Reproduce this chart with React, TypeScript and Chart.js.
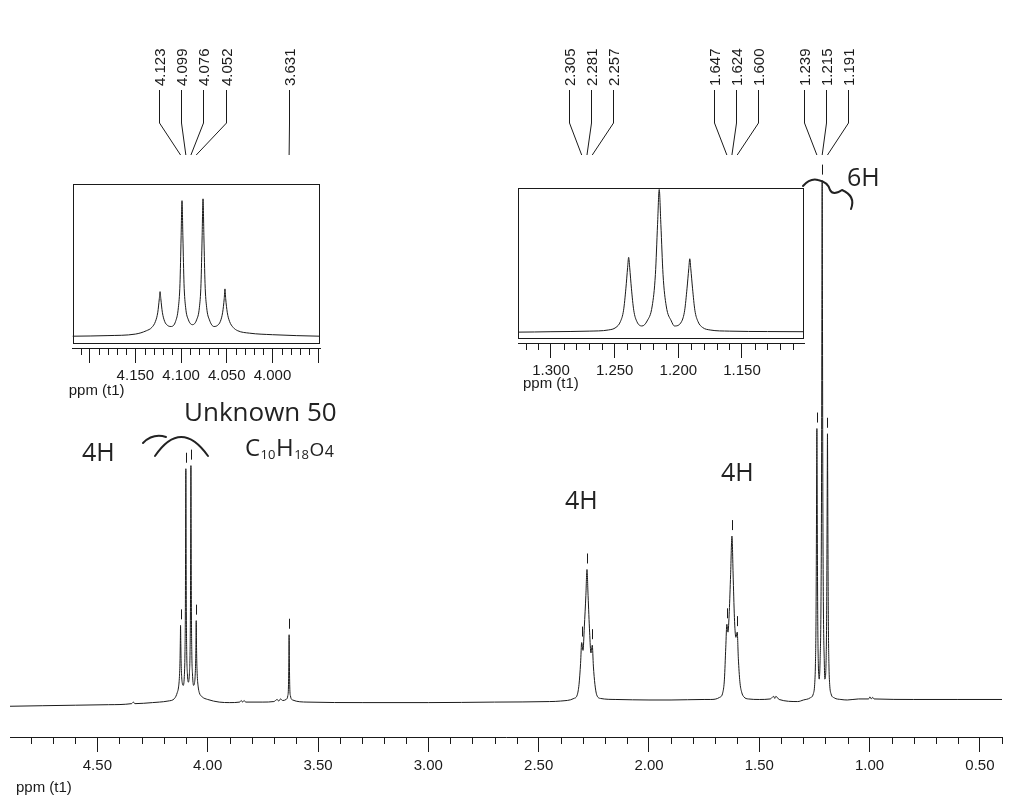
import React, { useEffect, useRef } from "react";
import { Chart, registerables } from "chart.js";

Chart.register(...registerables);

// ---------------- data ----------------
// spectrum: [ppm, relative intensity] (tallest line 1.215 ppm ≈ 100)
const BASE_LEFT: [number, number][] = [
  [4.896, -1.2], [4.75, -1.1], [4.6, -1.0], [4.45, -0.9], [4.345, -0.7], [4.337, -0.4], [4.33, -0.7], [4.25, -0.5],
];
const QUARTET_OCH2: [number, number][] = [
  [4.219, -0.4], [4.18, -0.2], [4.15, 0.3], [4.138, 1.4], [4.132, 2.5], [4.128, 4.5], [4.1255, 7.5], [4.1238, 12],
  [4.123, 14.3], [4.1222, 12], [4.1205, 7.5], [4.118, 4.5], [4.115, 3.2], [4.111, 2.8], [4.106, 4.5], [4.103, 9],
  [4.1012, 17], [4.1, 32], [4.099, 44.3], [4.098, 32], [4.0968, 17], [4.095, 9], [4.092, 5], [4.0875, 3.4],
  [4.083, 5], [4.08, 9], [4.0782, 17], [4.077, 32], [4.076, 44.9], [4.075, 32], [4.0738, 17], [4.072, 9],
  [4.069, 5], [4.064, 2.8], [4.06, 3.2], [4.057, 4.5], [4.0545, 7.5], [4.0528, 12], [4.052, 15.2], [4.0512, 12],
  [4.0495, 7.5], [4.047, 4.5], [4.043, 2.5], [4.038, 1.4], [4.025, 0.6], [4.0, 0.1], [3.948, -0.4],
];
const BASE_MID: [number, number][] = [
  [3.9, -0.5], [3.855, -0.4], [3.848, -0.1], [3.842, -0.4], [3.835, -0.1], [3.828, -0.4], [3.75, -0.4], [3.7, -0.3],
  [3.685, 0.1], [3.678, -0.2], [3.67, 0.2], [3.66, -0.1], [3.645, 0.1], [3.637, 0.8], [3.634, 2.5], [3.632, 8],
  [3.631, 12.5], [3.63, 8], [3.628, 2.5], [3.625, 0.8], [3.615, 0.0], [3.55, -0.4], [3.3, -0.5], [3.0, -0.5],
  [2.7, -0.4], [2.45, -0.3], [2.4, -0.2], [2.34, 0.3],
];
const MULTIPLET_CH2CO: [number, number][] = [
  [2.325, 1.0], [2.317, 3], [2.31, 7], [2.305, 11], [2.299, 9.5], [2.293, 14], [2.286, 20], [2.281, 25],
  [2.276, 20], [2.269, 13], [2.263, 9], [2.257, 10.5], [2.252, 6.5], [2.245, 3], [2.237, 1], [2.22, 0.3],
];
const BASE_B: [number, number][] = [
  [2.15, 0.1], [2.0, 0.0], [1.9, 0.0], [1.75, 0.1], [1.72, 0.1], [1.68, 0.5],
];
const MULTIPLET_CH2: [number, number][] = [
  [1.665, 1.5], [1.658, 4], [1.652, 10], [1.647, 14.5], [1.642, 13], [1.636, 17], [1.63, 24], [1.624, 31.4],
  [1.618, 23], [1.612, 15], [1.606, 12], [1.6, 13], [1.595, 8], [1.588, 3.5], [1.58, 1.5], [1.57, 0.6],
];
const BASE_C: [number, number][] = [
  [1.55, 0.2], [1.5, 0.1], [1.45, 0.2], [1.435, 0.7], [1.43, 0.3], [1.425, 0.7], [1.41, 0.1],
];
const TRIPLET_CH3: [number, number][] = [
  [1.326, -0.3], [1.3, 0], [1.27, 0.4], [1.255, 1.2], [1.249, 3], [1.2455, 7], [1.243, 15], [1.2412, 30],
  [1.2398, 45], [1.239, 52], [1.2382, 45], [1.2368, 30], [1.235, 15], [1.2325, 7], [1.2285, 4], [1.2245, 7.5],
  [1.2205, 18], [1.218, 40], [1.2163, 75], [1.215, 99.5], [1.2137, 75], [1.212, 40], [1.2095, 18], [1.2055, 7.5],
  [1.203, 4], [1.1975, 7], [1.195, 15], [1.1932, 30], [1.1918, 44], [1.191, 51], [1.1902, 44], [1.1888, 30],
  [1.187, 15], [1.1845, 7], [1.181, 3], [1.175, 1.2], [1.16, 0.4], [1.13, 0.1], [1.1013, 0],
];
const BASE_RIGHT: [number, number][] = [
  [1.05, 0.2], [1.005, 0.2], [0.998, 0.6], [0.992, 0.2], [0.986, 0.5], [0.98, 0.2], [0.8, 0.1], [0.6, 0.1], [0.4, 0.1],
];

// picked peaks, grouped as labelled at the top
const PEAK_GROUPS: number[][] = [
  [4.123, 4.099, 4.076, 4.052],
  [3.631],
  [2.305, 2.281, 2.257],
  [1.647, 1.624, 1.6],
  [1.239, 1.215, 1.191],
];

// axes
const MAIN_TICKS = [4.8, 4.7, 4.6, 4.5, 4.4, 4.3, 4.2, 4.1, 4.0, 3.9, 3.8, 3.7, 3.6, 3.5, 3.4, 3.3, 3.2, 3.1, 3.0,
  2.9, 2.8, 2.7, 2.6, 2.5, 2.4, 2.3, 2.2, 2.1, 2.0, 1.9, 1.8, 1.7, 1.6, 1.5, 1.4, 1.3, 1.2, 1.1, 1.0, 0.9, 0.8,
  0.7, 0.6, 0.5, 0.4];
const MAIN_LABELS = [4.5, 4.0, 3.5, 3.0, 2.5, 2.0, 1.5, 1.0, 0.5];
const INSET1_TICKS = [4.21, 4.2, 4.19, 4.18, 4.17, 4.16, 4.15, 4.14, 4.13, 4.12, 4.11, 4.1, 4.09, 4.08, 4.07, 4.06,
  4.05, 4.04, 4.03, 4.02, 4.01, 4.0, 3.99, 3.98, 3.97, 3.96, 3.95];
const INSET1_LABELS = [4.15, 4.1, 4.05, 4.0];
const INSET2_TICKS = [1.32, 1.31, 1.3, 1.29, 1.28, 1.27, 1.26, 1.25, 1.24, 1.23, 1.22, 1.21, 1.2, 1.19, 1.18, 1.17,
  1.16, 1.15, 1.14, 1.13, 1.12, 1.11];
const INSET2_LABELS = [1.3, 1.25, 1.2, 1.15];

// ---------------- helpers ----------------
const INK = "#1a1a1a";
const FONT = '"Liberation Sans", Arial, sans-serif';
const HAND_FONT = '"Open Sans", "Noto Sans", sans-serif';

const SPECTRUM = [
  ...BASE_LEFT, ...QUARTET_OCH2, ...BASE_MID, ...MULTIPLET_CH2CO, ...BASE_B,
  ...MULTIPLET_CH2, ...BASE_C, ...TRIPLET_CH3, ...BASE_RIGHT,
]
  .map(([x, y]) => ({ x, y }))
  .sort((a, b) => b.x - a.x);

const near = (a: number, b: number) => Math.abs(a - b) < 1e-6;
const inList = (list: number[], v: number) => list.some((l) => near(l, v));
const isMultiple = (v: number, step: number) => Math.abs(v / step - Math.round(v / step)) < 1e-6;
const intensityAt = (ppm: number) => {
  const p = SPECTRUM.find((d) => near(d.x, ppm));
  return p ? p.y : 0;
};

function dataset() {
  return {
    data: SPECTRUM,
    borderColor: INK,
    borderWidth: 1,
    pointRadius: 0,
    fill: false,
    cubicInterpolationMode: "monotone" as const,
  };
}

// ---------------- main chart ----------------
const mainDecor = {
  id: "mainDecor",
  afterDraw(chart: any) {
    const ctx: CanvasRenderingContext2D = chart.ctx;
    const xs = chart.scales.x;
    const ys = chart.scales.y;
    const area = chart.chartArea;
    ctx.save();
    ctx.strokeStyle = INK;
    ctx.fillStyle = INK;
    ctx.lineWidth = 1;

    // minor ticks
    MAIN_TICKS.forEach((v) => {
      if (inList(MAIN_LABELS, v)) return;
      const x = Math.round(xs.getPixelForValue(v)) + 0.5;
      ctx.beginPath();
      ctx.moveTo(x, area.bottom);
      ctx.lineTo(x, area.bottom + 7);
      ctx.stroke();
    });

    // axis title
    ctx.font = `15px ${FONT}`;
    ctx.textAlign = "left";
    ctx.textBaseline = "middle";
    ctx.fillText("ppm (t1)", 16, 788);

    // peak pick marks
    PEAK_GROUPS.flat().forEach((p) => {
      const x = Math.round(xs.getPixelForValue(p)) + 0.5;
      const y = ys.getPixelForValue(intensityAt(p));
      ctx.beginPath();
      ctx.moveTo(x, y - 16);
      ctx.lineTo(x, y - 6);
      ctx.stroke();
    });

    // peak labels with connector lines
    const PITCH = 22.2;
    ctx.font = `15px ${FONT}`;
    PEAK_GROUPS.forEach((g) => {
      const px = g.map((p) => xs.getPixelForValue(p));
      const mean = px.reduce((s, v) => s + v, 0) / px.length;
      const shift = g.length > 1 ? 4 : 0;
      g.forEach((p, i) => {
        const lx = Math.round(mean + shift + (i - (g.length - 1) / 2) * PITCH) + 0.5;
        ctx.save();
        ctx.translate(lx + 1, 86);
        ctx.rotate(-Math.PI / 2);
        ctx.textAlign = "left";
        ctx.textBaseline = "middle";
        ctx.fillText(p.toFixed(3), 0, 0);
        ctx.restore();
        ctx.beginPath();
        ctx.moveTo(lx, 90);
        ctx.lineTo(lx, 123);
        ctx.lineTo(px[i], 155);
        ctx.stroke();
      });
    });

    // handwritten notes
    ctx.fillStyle = "#222";
    ctx.strokeStyle = "#222";
    ctx.lineWidth = 2;
    ctx.lineCap = "round";
    ctx.lineJoin = "round";
    ctx.textBaseline = "alphabetic";
    ctx.textAlign = "left";
    ctx.font = `26px ${HAND_FONT}`;
    ctx.fillText("Unknown 50", 184, 421);
    ctx.font = `25px ${HAND_FONT}`;
    ctx.fillText("4H", 82, 461);
    ctx.fillText("4H", 565, 509);
    ctx.fillText("4H", 721, 481);
    ctx.fillText("6H", 847, 186);
    // formula C10H18O4
    const parts: [string, number, number][] = [
      ["C", 24, 0], ["10", 13, 3], ["H", 24, 0], ["18", 13, 3], ["O", 19, 0], ["4", 16, 1],
    ];
    let fx = 245;
    parts.forEach(([t, s, dy]) => {
      ctx.font = `${s}px ${HAND_FONT}`;
      ctx.fillText(t, fx, 456 + dy);
      fx += ctx.measureText(t).width + 0.5;
    });
    // arcs
    ctx.beginPath();
    ctx.moveTo(143, 443);
    ctx.quadraticCurveTo(153, 433, 166, 437);
    ctx.stroke();
    ctx.beginPath();
    ctx.moveTo(155, 456);
    ctx.quadraticCurveTo(181, 418, 208, 456);
    ctx.stroke();
    // squiggle next to 6H
    ctx.beginPath();
    ctx.moveTo(803, 186);
    ctx.quadraticCurveTo(810, 178, 818, 180);
    ctx.quadraticCurveTo(828, 182, 830, 190);
    ctx.quadraticCurveTo(833, 196, 842, 190);
    ctx.quadraticCurveTo(856, 196, 851, 209);
    ctx.stroke();
    ctx.restore();
  },
};

function mainConfig(): any {
  return {
    type: "line",
    data: { datasets: [dataset()] },
    options: {
      animation: false,
      responsive: false,
      maintainAspectRatio: false,
      events: [],
      layout: { padding: { left: 10, right: 22, top: 178, bottom: 0 } },
      plugins: { legend: { display: false }, tooltip: { enabled: false }, title: { display: false } },
      scales: {
        x: {
          type: "linear",
          reverse: true,
          min: 0.4,
          max: 4.896,
          afterBuildTicks: (s: any) => {
            s.ticks = MAIN_TICKS.map((v) => ({ value: v }));
          },
          afterFit: (s: any) => {
            s.height = 60;
          },
          grid: {
            drawOnChartArea: false,
            drawTicks: true,
            tickLength: 15,
            tickWidth: 1,
            tickColor: (c: any) => (c.tick && inList(MAIN_LABELS, c.tick.value) ? INK : "rgba(0,0,0,0)"),
          },
          border: { display: true, color: INK, width: 1 },
          ticks: {
            autoSkip: false,
            maxRotation: 0,
            padding: 5,
            color: INK,
            font: { family: FONT, size: 15 },
            callback: (v: number) => (inList(MAIN_LABELS, v) ? v.toFixed(2) : ""),
          },
        },
        y: { display: false, min: -7.09, max: 100 },
      },
    },
    plugins: [mainDecor],
  };
}

// ---------------- insets ----------------
type InsetSpec = {
  min: number;
  max: number;
  yMin: number;
  yMax: number;
  ticks: number[];
  labels: number[];
  pad: { left: number; right: number; top: number };
  axisHeight: number;
  labelPad: number;
  boxGap: number;
  titleDx: number;
  titleDy: number;
};

const INSET1: InsetSpec = {
  min: 3.948, max: 4.2186, yMin: -4.29, yMax: 49.8,
  ticks: INSET1_TICKS, labels: INSET1_LABELS,
  pad: { left: 12.7, right: 20, top: 14 }, axisHeight: 62, labelPad: 4, boxGap: 5, titleDx: -4, titleDy: 43,
};
const INSET2: InsetSpec = {
  min: 1.1013, max: 1.3259, yMin: -7.9, yMax: 100.5,
  ticks: INSET2_TICKS, labels: INSET2_LABELS,
  pad: { left: 13, right: 21, top: 13 }, axisHeight: 67, labelPad: 4, boxGap: 5, titleDx: 5, titleDy: 41,
};

function insetConfig(spec: InsetSpec): any {
  const decor = {
    id: "insetDecor",
    afterDraw(chart: any) {
      const ctx: CanvasRenderingContext2D = chart.ctx;
      const xs = chart.scales.x;
      const a = chart.chartArea;
      ctx.save();
      ctx.strokeStyle = INK;
      ctx.fillStyle = INK;
      ctx.lineWidth = 1;
      const l = Math.round(a.left) + 0.5;
      const r = Math.round(a.right) - 0.5;
      const t = Math.round(a.top) + 0.5;
      const b = Math.round(a.bottom - spec.boxGap) + 0.5;
      ctx.strokeRect(l, t, r - l, b - t);
      spec.ticks.forEach((v) => {
        if (isMultiple(v, 0.05)) return;
        const x = Math.round(xs.getPixelForValue(v)) + 0.5;
        ctx.beginPath();
        ctx.moveTo(x, a.bottom);
        ctx.lineTo(x, a.bottom + 7);
        ctx.stroke();
      });
      ctx.font = `15px ${FONT}`;
      ctx.textAlign = "left";
      ctx.textBaseline = "middle";
      ctx.fillText("ppm (t1)", a.left + spec.titleDx, a.bottom + spec.titleDy);
      ctx.restore();
    },
  };
  return {
    type: "line",
    data: { datasets: [dataset()] },
    options: {
      animation: false,
      responsive: false,
      maintainAspectRatio: false,
      events: [],
      layout: { padding: { left: spec.pad.left, right: spec.pad.right, top: spec.pad.top, bottom: 0 } },
      plugins: { legend: { display: false }, tooltip: { enabled: false } },
      scales: {
        x: {
          type: "linear",
          reverse: true,
          min: spec.min,
          max: spec.max,
          afterBuildTicks: (s: any) => {
            s.ticks = spec.ticks.map((v) => ({ value: v }));
          },
          afterFit: (s: any) => {
            s.height = spec.axisHeight;
          },
          grid: {
            drawOnChartArea: false,
            drawTicks: true,
            tickLength: 15,
            tickWidth: 1,
            tickColor: (c: any) => (c.tick && isMultiple(c.tick.value, 0.05) ? INK : "rgba(0,0,0,0)"),
          },
          border: { display: true, color: INK, width: 1 },
          ticks: {
            autoSkip: false,
            maxRotation: 0,
            padding: spec.labelPad,
            color: INK,
            font: { family: FONT, size: 15 },
            callback: (v: number) => (inList(spec.labels, v) ? v.toFixed(3) : ""),
          },
        },
        y: { display: false, min: spec.yMin, max: spec.yMax },
      },
    },
    plugins: [decor],
  };
}

// ---------------- component ----------------
export default function App() {
  const mainRef = useRef<HTMLCanvasElement>(null);
  const in1Ref = useRef<HTMLCanvasElement>(null);
  const in2Ref = useRef<HTMLCanvasElement>(null);

  useEffect(() => {
    const charts: Chart[] = [];
    if (mainRef.current) charts.push(new Chart(mainRef.current, mainConfig()));
    if (in1Ref.current) charts.push(new Chart(in1Ref.current, insetConfig(INSET1)));
    if (in2Ref.current) charts.push(new Chart(in2Ref.current, insetConfig(INSET2)));
    return () => charts.forEach((c) => c.destroy());
  }, []);

  return (
    <div
      style={{
        position: "absolute",
        left: 0,
        top: 0,
        width: 1024,
        height: 797,
        background: "#ffffff",
        overflow: "hidden",
      }}
    >
      <canvas ref={mainRef} width={1024} height={797} style={{ position: "absolute", left: 0, top: 0, width: 1024, height: 797 }} />
      <canvas ref={in1Ref} width={280} height={240} style={{ position: "absolute", left: 60, top: 170, width: 280, height: 240 }} />
      <canvas ref={in2Ref} width={320} height={235} style={{ position: "absolute", left: 505, top: 175, width: 320, height: 235 }} />
    </div>
  );
}
